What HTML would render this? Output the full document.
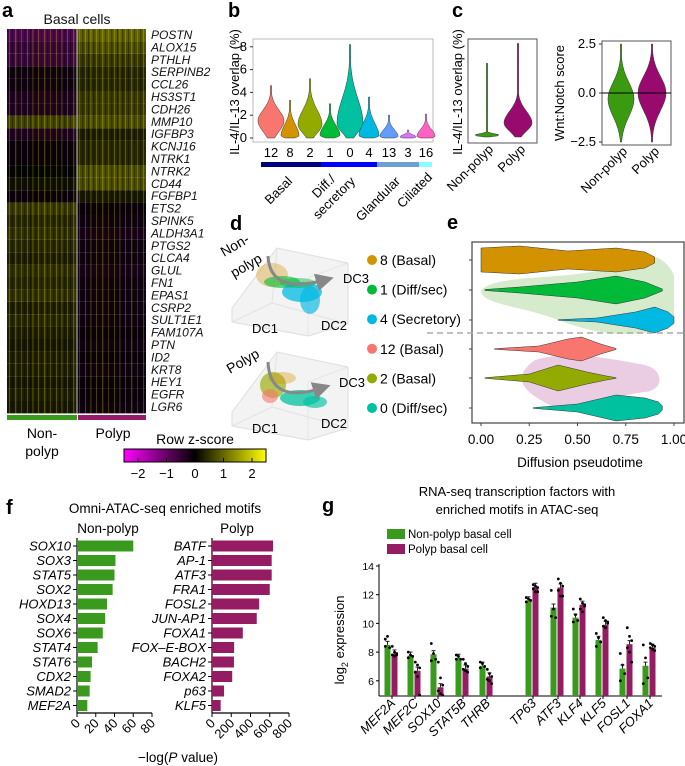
<!DOCTYPE html>
<html><head><meta charset="utf-8"><style>
html,body{margin:0;padding:0;background:#fff;}
svg{display:block;font-family:"Liberation Sans",Arial,sans-serif;}
.pl{font-weight:bold;font-size:20px;}
.t{font-size:12px;fill:#111;}
.it{font-style:italic;}
</style></head><body>
<svg id="fig" width="685" height="766" viewBox="0 0 685 766" xmlns="http://www.w3.org/2000/svg">
<defs>
<pattern id="stripes" width="29" height="12.4" patternUnits="userSpaceOnUse">
<rect x="1" y="0" width="1.2" height="12.4" fill="#000" opacity="0.4"/>
<rect x="3.5" y="0" width="0.8" height="12.4" fill="#ff0" opacity="0.3"/>
<rect x="6" y="0" width="1.5" height="12.4" fill="#000" opacity="0.3"/>
<rect x="9" y="0" width="0.7" height="12.4" fill="#ff0" opacity="0.35"/>
<rect x="12" y="0" width="1" height="12.4" fill="#000" opacity="0.35"/>
<rect x="15" y="0" width="1.3" height="12.4" fill="#ff0" opacity="0.25"/>
<rect x="18" y="0" width="0.8" height="12.4" fill="#000" opacity="0.35"/>
<rect x="21" y="0" width="1" height="12.4" fill="#ff0" opacity="0.2"/>
<rect x="24" y="0" width="1.4" height="12.4" fill="#000" opacity="0.3"/>
<rect x="27" y="0" width="0.8" height="12.4" fill="#ff0" opacity="0.3"/>
</pattern>
<linearGradient id="zgrad" x1="0" x2="1" y1="0" y2="0">
<stop offset="0" stop-color="#ff00ff"/><stop offset="0.5" stop-color="#000"/><stop offset="1" stop-color="#ffff00"/>
</linearGradient>
<marker id="arr" markerWidth="6" markerHeight="6" refX="3" refY="3" orient="auto"><path d="M0,0 L6,3 L0,6z" fill="#888"/></marker>
</defs>
<g id="root"></g>
</svg>
<script>
// ---------- DATA ----------
const genes=["POSTN","ALOX15","PTHLH","SERPINB2","CCL26","HS3ST1","CDH26","MMP10","IGFBP3","KCNJ16","NTRK1","NTRK2","CD44","FGFBP1","ETS2","SPINK5","ALDH3A1","PTGS2","CLCA4","GLUL","FN1","EPAS1","CSRP2","SULT1E1","FAM107A","PTN","ID2","KRT8","HEY1","EGFR","LGR6"];
const heatNonPolyp=[-1.0,-0.8,-0.8,-0.3,-0.3,-0.5,-0.5,0.9,-0.5,-0.2,-0.2,0.1,0.3,-0.2,0.8,0.6,0.7,0.6,0.5,0.7,0.6,0.7,0.5,0.6,0.5,0.4,0.5,0.5,0.4,0.5,0.4];
const heatPolyp=[1.2,1.0,0.8,0.6,0.6,0.8,0.8,1.0,0.5,0.6,0.6,1.0,1.0,0.4,-0.2,-0.3,-0.4,-0.3,-0.3,-0.4,-0.3,-0.3,-0.3,-0.3,-0.2,-0.3,-0.2,-0.3,-0.2,-0.2,-0.3];
const zTicks=[-2,-1,0,1,2];

const bClusters=["12","8","2","1","0","4","13","3","16"];
const bColors=["#F8766D","#D39200","#93AA00","#00BA38","#00C19F","#00B9E3","#619CFF","#DB72FB","#FF61C3"];
const bMax=[4.6,3.3,5.2,3.0,8.2,3.6,2.0,0.7,2.1];
const bMode=[1.5,0.2,1.2,0.25,1.3,0.2,0.15,0.1,0.15];
const bWidth=[13,9,12,10,13,10,9,8,9];
const bTicks=[0,2,4,6,8];

const cGroups=["Non-polyp","Polyp"];
const cIlMax=[6.3,8.0];
const cIlMode=[0.15,1.2];
const cWntMode=[-0.3,0.0];
const wntTicks=[2.5,0.0,-2.5];

const eNames=["8 (Basal)","1 (Diff/sec)","4 (Secretory)","12 (Basal)","2 (Basal)","0 (Diff/sec)"];
const eColors=["#D39200","#00BA38","#00B9E3","#F8766D","#93AA00","#00C19F"];
const eX=[[0,0.2,0.45,0.7,0.85,0.9],[0.02,0.2,0.5,0.7,0.85,0.94],[0.4,0.6,0.8,0.9,0.97,1.0],[0.07,0.3,0.45,0.52,0.62,0.7],[0.02,0.25,0.4,0.55,0.65,0.7],[0.27,0.5,0.7,0.85,0.92,0.94]];
const eH=[[12,14,9,12,8,3],[0.5,3,8,14,8,1],[0.3,2,8,13,8,3],[0.3,3,10,12,5,0.5],[0.3,4,13,6,2,0.3],[0.3,4,13,10,6,2]];
const eTicks=[0,0.25,0.5,0.75,1.0];

const fNonNames=["SOX10","SOX3","STAT5","SOX2","HOXD13","SOX4","SOX6","STAT4","STAT6","CDX2","SMAD2","MEF2A"];
const fNonVals=[60,41,40,38,32,30,27.5,22,16,14.5,13.5,11];
const fPolNames=["BATF","AP-1","ATF3","FRA1","FOSL2","JUN-AP1","FOXA1","FOX\u2013E-BOX","BACH2","FOXA2","p63","KLF5"];
const fPolVals=[634,620,620,600,490,465,320,230,228,210,125,90];
const fNonTicks=[0,20,40,60,80];
const fPolTicks=[0,200,400,600,800];

const gGenes=["MEF2A","MEF2C","SOX10","STAT5B","THRB","TP63","ATF3","KLF4","KLF5","FOSL1","FOXA1"];
const gNon=[8.5,7.75,7.85,7.6,7.05,11.6,11.1,10.4,8.85,6.85,7.05];
const gPol=[7.9,6.7,5.55,6.85,6.3,12.55,12.5,11.3,9.9,8.55,8.3];
const gNonPts=[[8.9,9.1,8.3,8.4],[8.0,7.8,7.7,7.6],[8.6,7.9,7.5,7.4],[7.8,7.7,7.5,7.5],[7.3,7.2,7.0,6.9],[11.8,11.7,11.6,11.5],[12.3,11.0,10.4,10.5],[11.0,10.6,10.2,10.1],[9.3,9.0,8.7,8.4],[7.9,7.1,6.5,6.0],[8.5,7.6,6.2,5.8]];
const gPolPts=[[8.4,8.0,7.9,7.8,7.7,7.8],[7.3,7.1,6.9,6.6,6.3,5.0],[7.3,6.2,5.7,5.3,5.1,5.0],[7.5,7.2,7.0,6.8,6.7,6.6],[6.8,6.5,6.3,6.1,6.0,5.8],[12.7,12.6,12.5,12.4,12.2,12.2],[13.1,12.8,12.6,12.3,11.9,11.9],[11.7,11.4,11.2,11.0,10.8,11.3],[10.4,10.2,10.0,9.8,9.7,10.1],[9.7,9.1,8.8,8.3,8.0,7.3],[8.6,8.5,8.4,8.3,8.2,8.1]];
const gTicks=[6,8,10,12,14];

// ---------- HELPERS ----------
const NS="http://www.w3.org/2000/svg";
const root=document.getElementById('root');
function el(tag,attrs,parent){const e=document.createElementNS(NS,tag);for(const k in attrs)e.setAttribute(k,attrs[k]);(parent||root).appendChild(e);return e;}
function txt(s,attrs,parent){const e=el('text',attrs,parent);e.textContent=s;return e;}
function zcol(v){v=Math.max(-2.5,Math.min(2.5,v));const t=Math.pow(Math.abs(v)/2.5,1.3);const c=Math.round(255*t);return v<0?`rgb(${c},${Math.round(c*0.1)},${c})`:`rgb(${c},${c},0)`;}
function violinV(cx,yOf,min,max,mode,w,sb,sa,fill,parent){
  let L=[],R=[];const n=60;
  for(let i=0;i<=n;i++){const v=min+(max-min)*i/n;const s=v<mode?sb:sa;let h=w*Math.exp(-0.5*Math.pow((v-mode)/s,2));h=Math.max(h,0.6);const y=yOf(v);L.push([cx-h,y]);R.push([cx+h,y]);}
  const pts=L.concat(R.reverse()).map(p=>p[0].toFixed(1)+','+p[1].toFixed(1)).join(' ');
  return el('polygon',{points:pts,fill:fill,stroke:'#333','stroke-width':0.5},parent);
}

// ---------- PANEL A ----------
const gA=el('g',{});


txt('a',{x:2,y:17,class:'pl'},gA);
txt('Basal cells',{x:77,y:24,'text-anchor':'middle','font-size':'14px',fill:'#111'},gA);
const rowH=12.4,hx0=7,hmid=77,hx1=146,hy0=29;
genes.forEach((g,i)=>{
  const y=hy0+i*rowH;
  const a=el('rect',{x:hx0,y:y,width:hmid-hx0,height:rowH,fill:zcol(heatNonPolyp[i])},gA);
  
  
  const b=el('rect',{x:hmid,y:y,width:hx1-hmid,height:rowH,fill:zcol(heatPolyp[i])},gA);
  
  
  const l=txt(g,{x:151,y:y+10,class:'t it','font-size':'12.5px'},gA);
  
  
});
el('rect',{x:hx0,y:hy0,width:hx1-hx0,height:rowH*genes.length,fill:'url(#stripes)'},gA);
el('line',{x1:hmid,y1:hy0,x2:hmid,y2:hy0+rowH*genes.length,stroke:'#ccc','stroke-width':1},gA);
el('rect',{x:7,y:415,width:70,height:5,fill:'#3a9a1e'},gA);
el('rect',{x:78,y:415,width:68,height:5,fill:'#9a1a6a'},gA);
txt('Non-',{x:42,y:438,'text-anchor':'middle','font-size':'14px'},gA);
txt('polyp',{x:42,y:456,'text-anchor':'middle','font-size':'14px'},gA);
txt('Polyp',{x:113,y:438,'text-anchor':'middle','font-size':'14px'},gA);
txt('Row z-score',{x:195,y:444,'text-anchor':'middle','font-size':'14px'},gA);
const cb=el('rect',{x:124,y:449,width:142,height:13,fill:'url(#zgrad)',stroke:'#000','stroke-width':1},gA);


zTicks.forEach(t=>{const x=195+t*28.5;el('line',{x1:x,y1:458,x2:x,y2:462,stroke:'#000'},gA);txt(t<0?'\u2212'+(-t):String(t),{x:x,y:478,'text-anchor':'middle','font-size':'13px'},gA);});

// ---------- PANEL B ----------
const gB=el('g',{});


txt('b',{x:228,y:17,class:'pl'},gB);
const bY=v=>138-v*11.4;
el('rect',{x:253,y:39,width:180,height:103,fill:'#fff',stroke:'#bbb'},gB);
bTicks.forEach(t=>{el('line',{x1:250,y1:bY(t),x2:253,y2:bY(t),stroke:'#333'},gB);txt(String(t),{x:247,y:bY(t)+4,'text-anchor':'end','font-size':'13px'},gB);});
const bXs=[271,290,310,330,350,369,389,408,426];
bClusters.forEach((c,i)=>{
  const v=violinV(bXs[i],bY,0,bMax[i],bMode[i],bWidth[i],bMode[i]*0.6+0.05,(bMax[i]-bMode[i])/3.2,bColors[i],gB);
  
  
  txt(c,{x:bXs[i],y:157,'text-anchor':'middle','font-size':'13px'},gB);
});
const ylb=txt('IL-4/IL-13 overlap (%)',{x:0,y:0,'text-anchor':'middle','font-size':'13px',transform:'translate(239,92) rotate(-90)'},gB);


[[261,321,'#00007f'],[321,377,'#0000ff'],[377,419,'#6d9fd6'],[419,432,'#8ff'] ].forEach(s=>el('rect',{x:s[0],y:162,width:s[1]-s[0],height:5,fill:s[2]},gB));
[['Basal',293,182],['Diff./',336,180],['secretory',356,182],['Glandular',401,182],['Ciliated',433,178]].forEach(s=>txt(s[0],{x:0,y:0,'text-anchor':'end','font-size':'13px',transform:`translate(${s[1]},${s[2]}) rotate(-45)`},gB));

// ---------- PANEL C ----------
const gC=el('g',{});


txt('c',{x:452,y:17,class:'pl'},gC);
el('rect',{x:468,y:39,width:69,height:104,fill:'#fff',stroke:'#555'},gC);
const cY=v=>137-v*11.7;
const cXs=[487,518],cCols=['#3a9a10','#990a6e'];
cGroups.forEach((g,i)=>{
  const v=violinV(cXs[i],cY,0,cIlMax[i],cIlMode[i],i?14:13,i?0.7:0.08,i?1.0:0.12,cCols[i],gC);
  
  
});
txt('IL-4/IL-13 overlap (%)',{x:0,y:0,'text-anchor':'middle','font-size':'13px',transform:'translate(462,92) rotate(-90)'},gC);
el('rect',{x:602,y:41,width:69,height:104,fill:'#fff',stroke:'#555'},gC);
const wY=v=>93-v*19.6;
const wXs=[621,652];
cGroups.forEach((g,i)=>{
  const v=violinV(wXs[i],wY,-2.5,2.5,cWntMode[i],i?14:13,0.9,0.85,cCols[i],gC);
  
  
});
el('line',{x1:602,y1:wY(0),x2:671,y2:wY(0),stroke:'#000'},gC);
wntTicks.forEach(t=>{el('line',{x1:599,y1:wY(t),x2:602,y2:wY(t),stroke:'#333'},gC);txt(t<0?'\u2212'+(-t).toFixed(1):t.toFixed(1),{x:596,y:wY(t)+4,'text-anchor':'end','font-size':'13px'},gC);});
txt('Wnt:Notch score',{x:0,y:0,'text-anchor':'middle','font-size':'13px',transform:'translate(564,93) rotate(-90)'},gC);
[[494,150,'Non-polyp'],[526,150,'Polyp'],[628,152,'Non-polyp'],[660,152,'Polyp']].forEach(s=>txt(s[2],{x:0,y:0,'text-anchor':'end','font-size':'13px',transform:`translate(${s[0]},${s[1]}) rotate(-45)`},gC));

// ---------- PANEL D ----------
const gD=el('g',{});


txt('d',{x:230,y:230,class:'pl'},gD);
function box3d(oy){
  const gg=el('g',{},gD);
  el('polygon',{points:`232,${oy+60} 277,${oy} 348,${oy+15} 348,${oy+76} 308,${oy+88} 232,${oy+74}`,fill:'#f3f3f3',stroke:'#ddd'},gg);
  el('polyline',{points:`277,${oy} 272,${oy+55} 232,${oy+74}`,fill:'none',stroke:'#e2e2e2'},gg);
  el('polyline',{points:`272,${oy+55} 348,${oy+76}`,fill:'none',stroke:'#e2e2e2'},gg);
  el('polyline',{points:`308,${oy+88} 308,${oy+30} 348,${oy+15}`,fill:'none',stroke:'#e6e6e6'},gg);
  return gg;
}
const b1=box3d(248);
[[272,275,16,12,'#D39200',0.35],[282,282,18,6,'#00BA38',0.6],[302,292,20,10,'#00B9E3',0.75],[298,283,18,5,'#00BA38',0.45],[310,300,10,14,'#00B9E3',0.65]].forEach(c=>el('ellipse',{cx:c[0],cy:c[1],rx:c[2],ry:c[3],fill:c[4],opacity:c[5]},b1));
el('path',{d:'M268,256 Q270,295 325,280',fill:'none',stroke:'#888','stroke-width':3,'marker-end':'url(#arr)'},b1);
const b2=box3d(352);
[[273,385,13,13,'#93AA00',0.65],[270,396,8,7,'#F8766D',0.6],[282,378,14,6,'#D39200',0.35],[300,398,20,8,'#00C19F',0.75],[315,402,12,6,'#00C19F',0.65]].forEach(c=>el('ellipse',{cx:c[0],cy:c[1],rx:c[2],ry:c[3],fill:c[4],opacity:c[5]},b2));
el('path',{d:'M268,362 Q270,405 322,388',fill:'none',stroke:'#888','stroke-width':3,'marker-end':'url(#arr)'},b2);
txt('Non-',{x:0,y:0,'font-size':'14px',transform:'translate(224,257) rotate(-30)'},gD);
txt('polyp',{x:0,y:0,'font-size':'14px',transform:'translate(234,278) rotate(-30)'},gD);
txt('Polyp',{x:0,y:0,'font-size':'14px',transform:'translate(230,374) rotate(-30)'},gD);
[['DC3',343,283],['DC1',252,333],['DC2',321,330],['DC3',339,387],['DC1',252,433],['DC2',321,428]].forEach(s=>txt(s[0],{x:s[1],y:s[2],'font-size':'13px'},gD));
eNames.forEach((n,i)=>{
  const y=260+i*29.6;
  const d=el('circle',{cx:372,cy:y,r:5,fill:eColors[i]},gD);
  
  
  txt(n,{x:380,y:y+5,'font-size':'14px'},gD);
});

// ---------- PANEL E ----------
const gE=el('g',{});


txt('e',{x:447,y:229,class:'pl'},gE);
const eXs=v=>481+v*193;
const eRows=[260,290,320,349,378,408];
el('rect',{x:472,y:242,width:212,height:181,fill:'#fff',stroke:'#444','stroke-width':1.2},gE);
el('path',{d:`M${eXs(0)},290 C${eXs(0.1)},272 ${eXs(0.5)},282 ${eXs(0.7)},265 C${eXs(0.85)},248 ${eXs(0.95)},255 ${eXs(1)},275 L${eXs(1)},325 C${eXs(0.8)},340 ${eXs(0.6)},335 ${eXs(0.4)},320 C${eXs(0.2)},305 ${eXs(0)},305 ${eXs(0)},290 Z`,fill:'#d6ebcc'},gE);
el('path',{d:`M${eXs(0.28)},360 C${eXs(0.45)},350 ${eXs(0.65)},358 ${eXs(0.85)},365 C${eXs(0.95)},370 ${eXs(0.95)},390 ${eXs(0.85)},392 C${eXs(0.7)},395 ${eXs(0.55)},410 ${eXs(0.4)},410 C${eXs(0.32)},400 ${eXs(0.1)},385 ${eXs(0.28)},360 Z`,fill:'#ebcde3'},gE);
eNames.forEach((n,i)=>{
  const xs=eX[i],hs=eH[i],cy=eRows[i];
  let top=[],bot=[];
  for(let k=0;k<xs.length;k++){top.push([eXs(xs[k]),cy-hs[k]]);bot.push([eXs(xs[k]),cy+hs[k]]);}
  let d='M'+top[0][0]+','+cy;
  for(let k=0;k<top.length;k++)d+=' L'+top[k][0].toFixed(1)+','+top[k][1].toFixed(1);
  d+=' L'+top[top.length-1][0].toFixed(1)+','+cy;
  for(let k=bot.length-1;k>=0;k--)d+=' L'+bot[k][0].toFixed(1)+','+bot[k][1].toFixed(1);
  d+='Z';
  const v=el('path',{d:d,fill:eColors[i],stroke:'#333','stroke-width':0.5,'stroke-linejoin':'round'},gE);
  
  
  el('line',{x1:469,y1:cy,x2:472,y2:cy,stroke:'#444'},gE);
});
el('line',{x1:427,y1:333,x2:685,y2:333,stroke:'#aaa','stroke-width':1.5,'stroke-dasharray':'6,4'},gE);
eTicks.forEach(t=>{el('line',{x1:eXs(t),y1:423,x2:eXs(t),y2:426,stroke:'#444'},gE);txt(t.toFixed(2),{x:eXs(t),y:444,'text-anchor':'middle','font-size':'13.5px'},gE);});
txt('Diffusion pseudotime',{x:580,y:467,'text-anchor':'middle','font-size':'13.5px'},gE);

// ---------- PANEL F ----------
const gF=el('g',{});


txt('f',{x:6,y:514,class:'pl'},gF);
txt('Omni-ATAC-seq enriched motifs',{x:165,y:513,'text-anchor':'middle','font-size':'13.5px'},gF);
txt('Non-polyp',{x:108,y:533,'text-anchor':'middle','font-size':'13.5px'},gF);
txt('Polyp',{x:237,y:533,'text-anchor':'middle','font-size':'13.5px'},gF);
function hbars(x0,scale,names,vals,ticks,col,tag){
  const xs=v=>x0+v*scale;
  el('line',{x1:x0,y1:538,x2:x0,y2:713,stroke:'#000','stroke-width':1.2},gF);
  el('line',{x1:x0,y1:713,x2:xs(ticks[ticks.length-1]),y2:713,stroke:'#000','stroke-width':1.2},gF);
  names.forEach((n,i)=>{
    const y=546+i*14.5;
    const r=el('rect',{x:x0,y:y-5.5,width:vals[i]*scale,height:11,fill:col},gF);
    
    
    el('line',{x1:x0-4,y1:y,x2:x0,y2:y,stroke:'#000'},gF);
    txt(n,{x:x0-6,y:y+4.5,'text-anchor':'end',class:'it','font-size':'13px'},gF);
  });
  ticks.forEach(t=>{el('line',{x1:xs(t),y1:713,x2:xs(t),y2:717,stroke:'#000'},gF);txt(String(t),{x:0,y:0,'text-anchor':'end','font-size':'13px',transform:`translate(${xs(t)+4},${724}) rotate(-45)`},gF);});
}
hbars(77,75/80,fNonNames,fNonVals,fNonTicks,'#3a9a1e','nonpolyp');
hbars(212,77/800,fPolNames,fPolVals,fPolTicks,'#951c63','polyp');
const fx=el('text',{x:178,y:762,'text-anchor':'middle','font-size':'13.5px'},gF);
fx.innerHTML='\u2212log(<tspan font-style="italic">P</tspan>\u00a0value)';

// ---------- PANEL G ----------
const gG=el('g',{});


txt('g',{x:322,y:512,class:'pl'},gG);
txt('RNA-seq transcription factors with',{x:517,y:496,'text-anchor':'middle','font-size':'13px'},gG);
txt('enriched motifs in ATAC-seq',{x:517,y:514,'text-anchor':'middle','font-size':'13px'},gG);
const lg1=el('rect',{x:387,y:529,width:18,height:10,fill:'#3a9a1e'},gG);


txt('Non-polyp basal cell',{x:408,y:538,'font-size':'11.5px'},gG);
const lg2=el('rect',{x:387,y:544,width:18,height:10,fill:'#951c63'},gG);


txt('Polyp basal cell',{x:408,y:553,'font-size':'11.5px'},gG);
const gY=v=>566+(14-v)*14.35;
el('line',{x1:379,y1:564,x2:379,y2:696,stroke:'#000'},gG);
el('line',{x1:379,y1:696,x2:662,y2:696,stroke:'#000'},gG);
gTicks.forEach(t=>{el('line',{x1:376,y1:gY(t),x2:379,y2:gY(t),stroke:'#000'},gG);txt(String(t),{x:374,y:gY(t)+4,'text-anchor':'end','font-size':'10.5px'},gG);});
const gl=el('text',{x:0,y:0,'text-anchor':'middle','font-size':'13px',transform:'translate(344,640) rotate(-90)'},gG);
gl.innerHTML='log<tspan font-size="9" dy="4">2</tspan><tspan dy="-4"> expression</tspan>';
const gXs=[392,415,438,463,487,533,558,580,603,627,650];
gGenes.forEach((g,i)=>{
  const cx=gXs[i];
  [[gNon[i],gNonPts[i],cx-4.5,'#3a9a1e','nonpolyp'],[gPol[i],gPolPts[i],cx+2.5,'#951c63','polyp']].forEach(s=>{
    const r=el('rect',{x:s[2]-3,y:gY(s[0]),width:6,height:696-gY(s[0]),fill:s[3]},gG);
    
    
    el('line',{x1:s[2],y1:gY(s[0]),x2:s[2],y2:gY(s[0]+0.25),stroke:'#222'},gG);
    el('line',{x1:s[2]-2,y1:gY(s[0]+0.25),x2:s[2]+2,y2:gY(s[0]+0.25),stroke:'#222'},gG);
    s[1].forEach((p,k)=>el('circle',{cx:s[2]+((k%3)-1)*2.2,cy:gY(p),r:1.4,fill:'#000'},gG));
  });
  el('line',{x1:cx,y1:696,x2:cx,y2:699,stroke:'#000'},gG);
  txt(g,{x:0,y:0,'text-anchor':'end','font-size':'13px',class:'it',transform:`translate(${cx+4},${704}) rotate(-45)`},gG);
});
</script>
</body></html>
